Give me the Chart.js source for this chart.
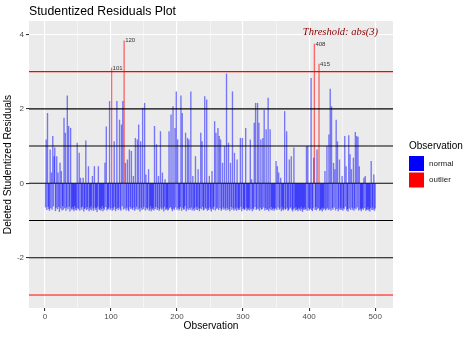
<!DOCTYPE html>
<html><head><meta charset="utf-8">
<script src="https://cdn.jsdelivr.net/npm/chart.js@4"></script>
<style>html,body{margin:0;padding:0;background:#fff}#wrap{width:474px;height:338px}</style>
</head><body><div id="wrap"><canvas id="c" width="474" height="338"></canvas></div>
<script>
const residuals = [
-0.64,1.17,-0.71,1.88,-0.62,-0.68,-0.73,0.90,-0.66,0.28,
-0.70,1.26,-0.61,0.72,0.95,-0.74,-0.65,0.72,-0.69,0.28,
-0.63,-0.76,0.54,-0.67,0.32,-0.72,-0.60,-0.70,1.75,-0.66,
1.35,-0.73,-0.64,2.35,-0.69,1.53,-0.62,-0.75,1.48,-0.67,
-0.71,-0.63,-0.68,-0.74,-0.60,-0.70,-0.65,-0.72,1.08,-0.66,
-0.69,0.81,-0.73,0.14,-0.64,-0.70,-0.62,0.14,-0.75,-0.68,
-0.66,1.14,-0.71,-0.63,-0.69,0.45,-0.74,-0.65,-0.70,-0.61,
-0.72,0.19,-0.67,-0.73,0.45,-0.64,-0.70,-0.66,-0.76,-0.62,
0.45,-0.69,-0.71,-0.65,-0.73,-0.68,-0.60,-0.74,-0.66,-0.70,
0.54,-0.63,1.52,-0.72,-0.67,-0.69,-0.64,2.20,-0.71,-0.66,
3.10,-0.73,-0.65,-0.70,1.12,-0.62,-0.74,-0.68,2.20,-0.66,
-0.71,-0.64,1.70,-0.69,-0.73,1.57,-0.61,2.20,-0.70,3.83,
-0.67,0.54,-0.72,-0.65,0.63,-0.70,-0.74,0.90,-0.63,-0.68,
0.86,-0.66,-0.71,0.19,-0.64,-0.73,1.21,-0.69,-0.62,1.17,
-0.70,1.57,-0.67,-0.75,1.12,-0.65,-0.71,2.02,-0.68,-0.63,
2.15,-0.72,0.23,-0.66,-0.70,-0.64,0.37,-0.73,-0.69,-0.61,
-0.74,-0.67,-0.70,-0.65,-0.72,1.53,-0.68,-0.63,1.04,-0.71,
-0.66,0.19,-0.73,-0.69,1.39,-0.64,-0.70,0.28,-0.67,-0.75,
-0.62,0.10,-0.71,-0.68,-0.65,-0.72,-0.70,1.39,-0.66,-0.63,
1.84,-0.69,-0.74,2.06,-0.67,-0.71,1.48,-0.64,2.46,-0.70,
1.17,-0.66,-0.72,-0.68,-0.63,2.35,-0.73,1.88,-0.65,-0.70,
-0.69,-0.61,1.35,-0.74,-0.67,1.21,-0.71,1.17,-0.66,-0.70,
2.46,-0.64,-0.72,0.19,-0.68,-0.73,-0.65,0.72,-0.70,-0.62,
-0.71,0.37,-0.67,-0.74,-0.66,1.35,-0.69,1.12,-0.63,-0.72,
-0.70,2.33,-0.65,-0.68,2.24,-0.73,-0.66,-0.71,0.19,-0.64,
-0.69,-0.75,0.32,-0.67,-0.70,-0.62,1.66,-0.72,1.35,-0.68,
-0.65,1.48,-0.71,1.26,-0.66,1.17,-0.73,-0.69,0.54,-0.64,
-0.70,0.99,-0.67,-0.72,2.94,-0.65,-0.71,1.08,-0.68,-0.74,
0.54,-0.63,-0.70,2.46,-0.66,-0.72,0.81,-0.69,-0.64,-0.73,
0.63,-0.67,-0.71,-0.65,-0.70,1.21,-0.62,-0.74,1.21,-0.68,
-0.66,-0.71,-0.69,1.48,-0.64,-0.73,-0.67,-0.70,-0.65,-0.72,
1.17,-0.68,0.10,-0.74,-0.66,-0.70,1.62,-0.63,2.15,-0.71,
-0.67,2.15,-0.69,1.62,-0.73,-0.65,1.17,-0.70,-0.68,1.21,
-0.64,1.97,-0.72,-0.66,1.44,-0.71,-0.69,2.29,-0.74,-0.67,
1.44,-0.70,-0.63,-0.72,-0.68,-0.65,-0.73,-0.69,-0.66,0.59,
-0.71,0.45,-0.64,0.28,-0.70,-0.67,0.14,-0.74,-0.62,-0.69,
-0.72,-0.66,1.93,-0.70,-0.68,1.39,-0.65,-0.73,-0.71,0.63,
-0.67,-0.64,0.72,-0.70,-0.75,-0.69,0.95,-0.66,-0.72,-0.63,
-0.71,-0.68,-0.74,-0.65,-0.70,-0.67,-0.73,-0.62,-0.69,-0.76,
-0.66,-0.71,-0.64,-0.70,-0.68,0.99,-0.73,0.99,-0.65,-0.72,
-0.69,-0.67,2.82,-0.71,-0.74,-0.66,0.68,3.74,-0.70,-0.63,
-0.72,0.90,-0.68,-0.65,3.20,-0.73,-0.69,-0.71,-0.66,-0.75,
-0.64,-0.70,-0.67,0.32,-0.72,-0.68,0.99,-0.65,-0.71,1.30,
-0.69,2.53,-0.73,2.06,-0.66,-0.70,0.54,-0.64,0.37,-0.72,
1.70,-0.68,1.12,-0.74,-0.67,0.63,-0.71,-0.65,-0.70,0.19,
-0.73,-0.66,-0.69,1.26,-0.62,0.45,-0.72,-0.68,-0.75,1.28,
-0.67,0.77,-0.71,0.37,-0.65,-0.70,0.68,-0.73,-0.66,1.37,
-0.69,1.26,-0.64,1.24,-0.72,0.45,-0.70,-0.67,-0.74,-0.68,
-0.65,-0.71,0.14,-0.66,0.19,-0.73,-0.69,-0.70,-0.63,-0.72,
-0.68,-0.75,-0.66,0.59,-0.71,-0.64,-0.70,0.23,-0.73,-0.67
];
const threshold = 3;
const seriesNames = ['normal', 'outlier'];
const seriesColors = ['#0000FF', '#FF0000'];
const xTickLabels = [0, 100, 200, 300, 400, 500];
const xGridValues = [0, 50, 100, 150, 200, 250, 300, 350, 400, 450, 500];
const yTickLabels = [-2, 0, 2, 4];
const yGridValues = [-3, -2, -1, 0, 1, 2, 3, 4];
const refLines = [-2, -1, 0, 1, 2];
const thresholdLines = [-3, 3];
const chartTitle = 'Studentized Residuals Plot';
const thresholdText = 'Threshold: abs(' + threshold + ')';

const isOut = v => Math.abs(v) > threshold;
const normalData = residuals.map((v, i) => ({x: i + 1, y: isOut(v) ? null : v}));
const outlierData = residuals.map((v, i) => ({x: i + 1, y: isOut(v) ? v : null}));

const SANS = '"Liberation Sans", Arial, Helvetica, sans-serif';

const deco = {
  id: 'deco',
  beforeDraw(chart) {
    const {ctx, chartArea: a} = chart;
    ctx.save();
    ctx.fillStyle = '#EBEBEB';
    ctx.fillRect(a.left, a.top, a.right - a.left, a.bottom - a.top);
    ctx.restore();
  },
  afterDatasetsDraw(chart) {
    const {ctx, chartArea: a, scales: {x, y}} = chart;
    ctx.save();
    ctx.beginPath();
    ctx.rect(a.left, a.top, a.right - a.left, a.bottom - a.top);
    ctx.clip();
    ctx.lineWidth = 1.1;
    ctx.strokeStyle = '#000000';
    refLines.forEach(v => {
      const py = y.getPixelForValue(v);
      ctx.beginPath(); ctx.moveTo(a.left, py); ctx.lineTo(a.right, py); ctx.stroke();
    });
    ctx.strokeStyle = '#FF0000';
    thresholdLines.forEach(v => {
      const py = y.getPixelForValue(v);
      ctx.beginPath(); ctx.moveTo(a.left, py); ctx.lineTo(a.right, py); ctx.stroke();
    });
    ctx.font = '6px ' + SANS;
    ctx.fillStyle = '#333333';
    ctx.textAlign = 'left';
    ctx.textBaseline = 'middle';
    residuals.forEach((v, i) => {
      if (isOut(v)) {
        ctx.fillText(String(i + 1), x.getPixelForValue(i + 1) + 1, y.getPixelForValue(v));
      }
    });
    ctx.font = 'italic 10.5px "Liberation Serif", "Times New Roman", serif';
    ctx.fillStyle = '#8B0000';
    ctx.textAlign = 'right';
    ctx.fillText(thresholdText, a.right - 15, a.top + 11);
    ctx.restore();
  },
  afterDraw(chart) {
    const {ctx, chartArea: a} = chart;
    ctx.save();
    ctx.fillStyle = '#000000';
    ctx.font = '12.3px ' + SANS;
    ctx.textAlign = 'left';
    ctx.textBaseline = 'alphabetic';
    ctx.fillText(chartTitle, a.left, 14.5);
    const lx = a.right + 16;
    const cy = (a.top + a.bottom) / 2;
    ctx.font = '10px ' + SANS;
    ctx.textBaseline = 'middle';
    ctx.fillText('Observation', lx, cy - 18.5);
    ctx.font = '8px ' + SANS;
    seriesNames.forEach((n, k) => {
      const top = cy - 8.5 + k * 16.5;
      ctx.fillStyle = seriesColors[k];
      ctx.fillRect(lx, top, 15, 15);
      ctx.fillStyle = '#1A1A1A';
      ctx.fillText(n, lx + 20, top + 7.5);
    });
    ctx.restore();
  }
};

const chart = new Chart(document.getElementById('c'), {
  type: 'bar',
  data: {
    datasets: [
      {label: seriesNames[0], data: normalData, backgroundColor: 'rgba(0,0,255,0.5)', borderWidth: 0, barThickness: 0.7, grouped: false},
      {label: seriesNames[1], data: outlierData, backgroundColor: 'rgba(255,0,0,0.55)', borderWidth: 0, barThickness: 0.7, grouped: false}
    ]
  },
  options: {
    responsive: false,
    animation: false,
    devicePixelRatio: 1,
    layout: {padding: {top: 21, right: 81, bottom: 0, left: 0}},
    plugins: {legend: {display: false}, tooltip: {enabled: false}, title: {display: false}},
    scales: {
      x: {
        type: 'linear', min: -24, max: 527, offset: false,
        border: {display: false},
        afterBuildTicks: s => { s.ticks = xGridValues.map(v => ({value: v})); },
        grid: {
          offset: false,
          color: '#FFFFFF',
          lineWidth: c => (c.tick && xTickLabels.includes(c.tick.value)) ? 1.1 : 0.5,
          tickColor: c => (c.tick && xTickLabels.includes(c.tick.value)) ? '#333333' : 'rgba(0,0,0,0)',
          tickLength: 3, drawTicks: true
        },
        ticks: {
          autoSkip: false, maxRotation: 0, minRotation: 0, padding: 1,
          color: '#4D4D4D', font: {family: SANS, size: 8},
          callback: v => xTickLabels.includes(v) ? String(v) : ''
        },
        title: {display: true, text: 'Observation', color: '#000', font: {family: SANS, size: 10.2}, padding: {top: 0, bottom: 6}},
        afterFit: s => { s.height = 30; }
      },
      y: {
        type: 'linear', min: -3.35, max: 4.36,
        border: {display: false},
        afterBuildTicks: s => { s.ticks = yGridValues.map(v => ({value: v})); },
        grid: {
          color: '#FFFFFF',
          lineWidth: c => (c.tick && yTickLabels.includes(c.tick.value)) ? 1.1 : 0.5,
          tickColor: c => (c.tick && yTickLabels.includes(c.tick.value)) ? '#333333' : 'rgba(0,0,0,0)',
          tickLength: 3, drawTicks: true
        },
        ticks: {
          autoSkip: false, padding: 2,
          color: '#4D4D4D', font: {family: SANS, size: 8},
          callback: v => yTickLabels.includes(v) ? String(v) : ''
        },
        title: {display: true, text: 'Deleted Studentized Residuals', color: '#000', font: {family: SANS, size: 10.2}, padding: {top: 2, bottom: 0}},
        afterFit: s => { s.width = 29; }
      }
    }
  },
  plugins: [deco]
});
</script>
</body></html>
